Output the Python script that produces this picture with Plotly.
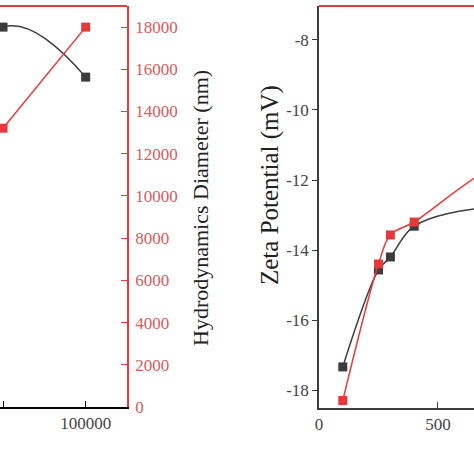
import plotly.graph_objects as go

W = H = 474

# left panel (hydrodynamic diameter, only right part visible)
left_x = [60000, 80000, 100000]
left_black = [9000, 18000, 15630]
left_red_x = [80000, 100000]
left_red = [13210, 18000]

# right panel (zeta potential)
zeta_x = [100, 250, 300, 400, 700, 1000]
zeta_black = [-17.34, -14.57, -14.2, -13.32, -12.8, -13.0]
zeta_red = [-18.3, -14.4, -13.57, -13.2, -11.75, -10.9]

zeta_ticks = [-8, -10, -12, -14, -16, -18]
zeta_labels = ["-8", "-10", "-12", "-14", "-16", "-18"]

BLACK = "#3c3c3c"
RED = "#e8393a"
RED_TXT = "#dc5a5a"
FONT = "Liberation Serif"


def px(x):
    return x / W


def py(y):
    return 1 - y / H


fig = go.Figure()
fig.add_trace(go.Scatter(x=left_x, y=left_black, mode="lines+markers",
                         line=dict(color=BLACK, width=1.5, shape="spline",
                                   smoothing=1.3, simplify=False),
                         marker=dict(symbol="square", size=9, color=BLACK),
                         xaxis="x", yaxis="y"))
fig.add_trace(go.Scatter(x=left_red_x, y=left_red, mode="lines+markers",
                         line=dict(color=RED, width=1.5),
                         marker=dict(symbol="square", size=9, color=RED),
                         xaxis="x", yaxis="y"))
fig.add_trace(go.Scatter(x=zeta_x, y=zeta_black, mode="lines+markers",
                         line=dict(color=BLACK, width=1.5, shape="spline"),
                         marker=dict(symbol="square", size=9, color=BLACK),
                         xaxis="x2", yaxis="y2"))
fig.add_trace(go.Scatter(x=zeta_x, y=zeta_red, mode="lines+markers",
                         line=dict(color=RED, width=1.5, shape="spline"),
                         marker=dict(symbol="square", size=9, color=RED),
                         xaxis="x2", yaxis="y2"))

tick_font = dict(family=FONT, size=17, color="#444444")

fig.update_layout(
    width=W, height=H,
    margin=dict(l=0, r=0, t=0, b=0),
    paper_bgcolor="white", plot_bgcolor="white",
    showlegend=False,
    font=dict(family=FONT),
    xaxis=dict(domain=[0, px(127)], range=[79270, 110000],
               tickvals=[80000, 100000], tickformat="d", ticks="inside", ticklen=6,
               tickcolor="black", showline=True, linecolor="black", linewidth=1.5,
               showgrid=False, zeroline=False, tickfont=tick_font, anchor="y",
               automargin=False),
    yaxis=dict(domain=[py(407), py(6)], range=[0, 19000], dtick=2000, tickformat="d",
               side="right", anchor="x", ticks="inside", ticklen=6,
               ticklabelstandoff=3,
               tickcolor=RED, showline=True, linecolor=RED, linewidth=1.5,
               showgrid=False, zeroline=False, automargin=False,
               tickfont=dict(family=FONT, size=17, color=RED_TXT)),
    xaxis2=dict(domain=[px(319), 1], range=[0, 651.3], dtick=500, tickformat="d",
                ticks="inside", ticklen=6, tickcolor=BLACK,
                showline=True, linecolor=BLACK, linewidth=1.5, automargin=False,
                showgrid=False, zeroline=False, tickfont=tick_font, anchor="y2"),
    yaxis2=dict(domain=[py(408), py(6)], range=[-18.514, -7.029],
                tickvals=zeta_ticks, ticktext=zeta_labels, ticks="outside", ticklen=5,
                tickcolor=BLACK, showline=True, linecolor=BLACK, linewidth=1.5,
                showgrid=False, zeroline=False, tickfont=tick_font, anchor="x2",
                automargin=False),
)

# red top frames
fig.add_shape(type="line", xref="paper", yref="paper",
              x0=0, x1=px(127), y0=py(6), y1=py(6), line=dict(color=RED, width=2))
fig.add_shape(type="line", xref="paper", yref="paper",
              x0=px(319), x1=1, y0=py(6), y1=py(6), line=dict(color=RED, width=2))

fig.add_annotation(text="Hydrodynamics Diameter (nm)", xref="paper", yref="paper",
                   x=px(200), y=py(208), showarrow=False, textangle=-90,
                   font=dict(family=FONT, size=22, color="#222222"))
fig.add_annotation(text="Zeta Potential (mV)", xref="paper", yref="paper",
                   x=px(270), y=py(185), showarrow=False, textangle=-90,
                   font=dict(family=FONT, size=25, color="#222222"))

# drop the default page margin so the figure sits at the window corner
fig.write_html("out.html", config={"displayModeBar": False},
               post_script="document.body.style.margin='0px';")
